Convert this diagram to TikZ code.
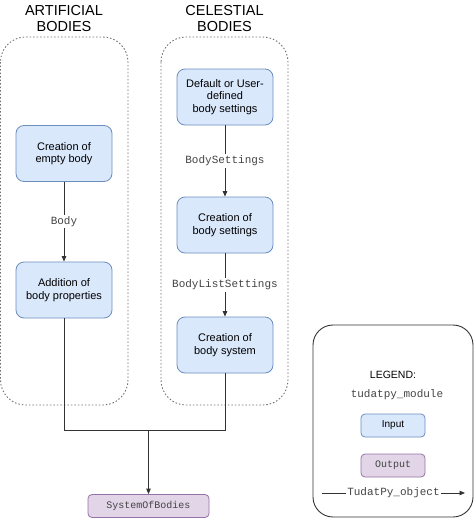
\documentclass[tikz,border=0pt]{standalone}
\usepackage{fontspec}
\setmainfont{Liberation Sans}
\setmonofont{Liberation Mono}
\usetikzlibrary{arrows.meta}
\definecolor{inFill}{HTML}{DAE8FC}
\definecolor{inDraw}{HTML}{6C8EBF}
\definecolor{outFill}{HTML}{E1D5E7}
\definecolor{outDraw}{HTML}{9673A6}
\definecolor{lineC}{HTML}{333333}
\definecolor{lblC}{HTML}{444444}
\tikzset{
  stepbox/.style={draw=inDraw, fill=inFill, rounded corners=8pt, minimum width=96pt, minimum height=56pt, align=center, font=\fontsize{11}{12.5}\selectfont, inner sep=2pt, line width=0.8pt},
  inbox/.style={draw=inDraw, fill=inFill, rounded corners=4pt, minimum width=64pt, minimum height=23pt, font=\fontsize{10}{12}\selectfont, line width=0.8pt},
  outbox/.style={draw=outDraw, fill=outFill, rounded corners=4pt, minimum height=23pt, font=\ttfamily\fontsize{10}{12}\selectfont, line width=0.8pt, text=lblC},
  group/.style={draw=lineC!70, dash pattern=on 1.5pt off 2pt, rounded corners=25pt, line width=0.9pt},
  title/.style={font=\fontsize{14.5}{16}\selectfont, align=center},
  lbl/.style={fill=white, text=lblC, font=\ttfamily\fontsize{11}{12}\selectfont, inner sep=1.5pt},
  conn/.style={draw=lineC, line width=0.9pt},
  arr/.style={conn, -{Triangle[length=5.5pt,width=4.5pt]}}
}
\begin{document}
\begin{tikzpicture}[x=1pt,y=-1pt]
\useasboundingbox (0,0) rectangle (474,525);
% groups
\draw[group] (0.5,37) rectangle (128,405);
\draw[group] (161,37) rectangle (288,405);
\node[title] (tA) at (64,19) {ARTIFICIAL\\BODIES};
\node[title] (tC) at (224.5,19) {CELESTIAL\\BODIES};
% left column
\node[stepbox] (a1) at (64,153.5) {Creation of\\empty body};
\node[stepbox] (a2) at (64,290) {Addition of\\body properties};
% right column
\node[stepbox] (c1) at (225,97) {Default or User-\\defined\\body settings};
\node[stepbox] (c2) at (225,225) {Creation of\\body settings};
\node[stepbox] (c3) at (225,345) {Creation of\\body system};
% output
\node[outbox, minimum width=121pt] (sob) at (148.5,506) {SystemOfBodies};
% connectors
\draw[arr] (a1) -- node[lbl] (lb1) {Body} (a2);
\draw[arr] (c1) -- node[lbl] (lb2) {BodySettings} (c2);
\draw[arr] (c2) -- node[lbl] (lb3) {BodyListSettings} (c3);
\coordinate (jl) at (64,430);
\coordinate (jr) at (225,430);
\coordinate (jm) at (148.5,430);
\draw[conn] (a2.south) -- (jl) -- (jr) -- (c3.south);
\draw[arr] (jm) -- (sob.north);
% legend
\draw[draw=lineC, line width=0.9pt, rounded corners=20pt] (313,325) rectangle (473,517);
\node[font=\fontsize{10.5}{12}\selectfont] (lg) at (393,375) {LEGEND:};
\node[font=\ttfamily\fontsize{11}{12}\selectfont, text=lblC] (lm) at (397,395) {tudatpy\_module};
\node[inbox] (lin) at (393,425.5) {Input};
\node[outbox, minimum width=64pt] (lout) at (393,465.5) {Output};
\coordinate (la) at (322,493);
\coordinate (lb) at (465,493);
\draw[arr] (la) -- node[lbl] (lo) {TudatPy\_object} (lb);
\end{tikzpicture}
\end{document}
